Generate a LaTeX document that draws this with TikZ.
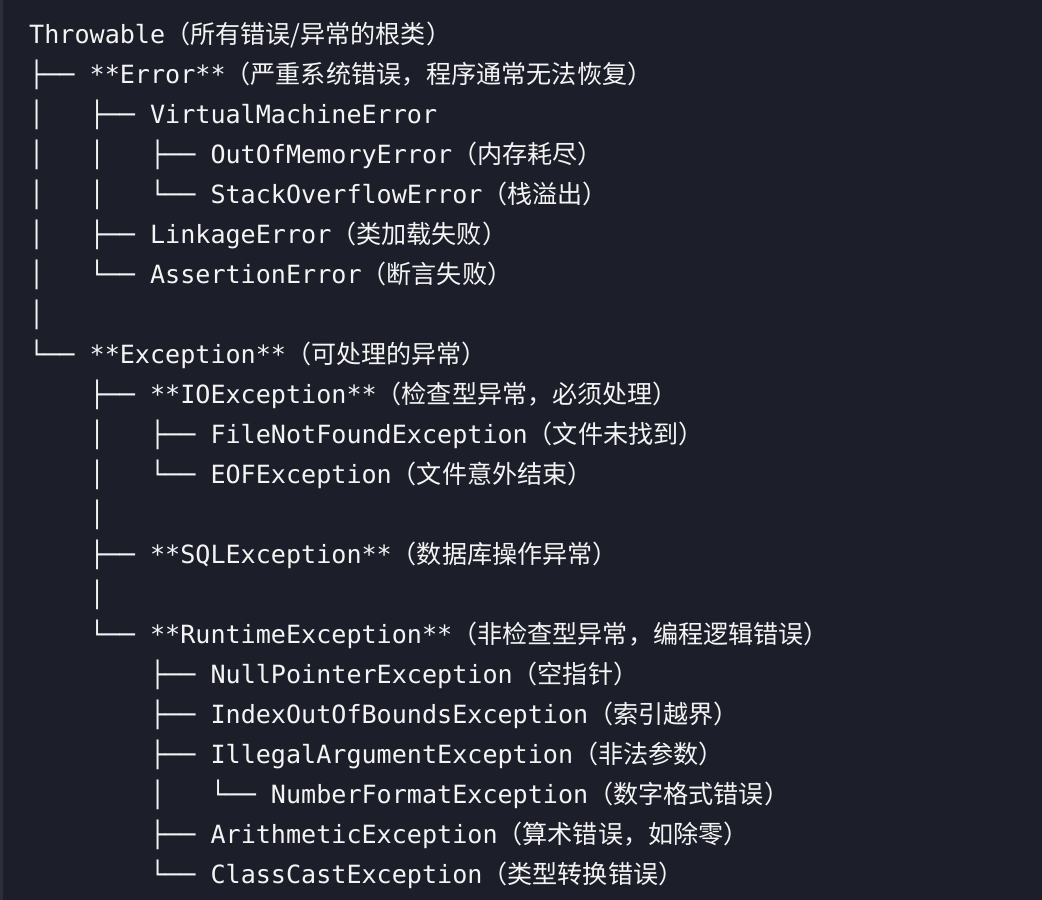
\documentclass[tikz,border=0pt]{standalone}
\usepackage{fontspec}
\newfontfamily\monofnt{DejaVu Sans Mono}
\newfontfamily\cjkfnt{Noto Sans CJK SC}
\newcommand\zh[1]{{\cjkfnt #1}}
\definecolor{bgcol}{HTML}{1C1F29}
\definecolor{edgecol}{HTML}{2C2F37}
\definecolor{txtcol}{HTML}{F4F4F4}
\tikzset{
  codeline/.style={anchor=base west, inner sep=0pt, text=txtcol,
    font=\monofnt\fontsize{25.1}{25.1}\selectfont},
}
\begin{document}
\begin{tikzpicture}[x=1pt,y=-1pt]
\fill[bgcol] (0,0) rectangle (1042,900);
\useasboundingbox (0,0) rectangle (1042,900);
\fill[edgecol] (0,0) rectangle (2.5,900);
\node[codeline] (l0)  at (29, 43) {Throwable\zh{（所有错误/异常的根类）}};
\node[codeline] (l1)  at (29, 83) {├──~**Error**\zh{（严重系统错误，程序通常无法恢复）}};
\node[codeline] (l2)  at (29,123) {│~~~├──~VirtualMachineError};
\node[codeline] (l3)  at (29,163) {│~~~│~~~├──~OutOfMemoryError\zh{（内存耗尽）}};
\node[codeline] (l4)  at (29,203) {│~~~│~~~└──~StackOverflowError\zh{（栈溢出）}};
\node[codeline] (l5)  at (29,243) {│~~~├──~LinkageError\zh{（类加载失败）}};
\node[codeline] (l6)  at (29,283) {│~~~└──~AssertionError\zh{（断言失败）}};
\node[codeline] (l7)  at (29,323) {│};
\node[codeline] (l8)  at (29,363) {└──~**Exception**\zh{（可处理的异常）}};
\node[codeline] (l9)  at (29,403) {~~~~├──~**IOException**\zh{（检查型异常，必须处理）}};
\node[codeline] (l10) at (29,443) {~~~~│~~~├──~FileNotFoundException\zh{（文件未找到）}};
\node[codeline] (l11) at (29,483) {~~~~│~~~└──~EOFException\zh{（文件意外结束）}};
\node[codeline] (l12) at (29,523) {~~~~│};
\node[codeline] (l13) at (29,563) {~~~~├──~**SQLException**\zh{（数据库操作异常）}};
\node[codeline] (l14) at (29,603) {~~~~│};
\node[codeline] (l15) at (29,643) {~~~~└──~**RuntimeException**\zh{（非检查型异常，编程逻辑错误）}};
\node[codeline] (l16) at (29,683) {~~~~~~~~├──~NullPointerException\zh{（空指针）}};
\node[codeline] (l17) at (29,723) {~~~~~~~~├──~IndexOutOfBoundsException\zh{（索引越界）}};
\node[codeline] (l18) at (29,763) {~~~~~~~~├──~IllegalArgumentException\zh{（非法参数）}};
\node[codeline] (l19) at (29,803) {~~~~~~~~│~~~└──~NumberFormatException\zh{（数字格式错误）}};
\node[codeline] (l20) at (29,843) {~~~~~~~~├──~ArithmeticException\zh{（算术错误，如除零）}};
\node[codeline] (l21) at (29,883) {~~~~~~~~└──~ClassCastException\zh{（类型转换错误）}};
\end{tikzpicture}
\end{document}
